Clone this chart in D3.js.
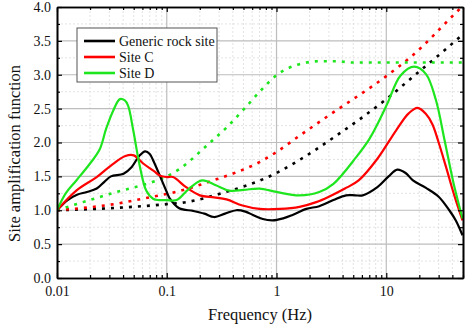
<!DOCTYPE html>
<html>
<head>
<meta charset="utf-8">
<script src="https://cdn.jsdelivr.net/npm/d3@7"></script>
<style>
  body { margin: 0; background: #fff; }
</style>
</head>
<body>
<div id="chart"></div>
<script>
// data
let rockFreq = [0.01, 0.0125, 0.0152, 0.0187, 0.023, 0.027, 0.031, 0.0404, 0.048, 0.056, 0.0636, 0.07, 0.076, 0.087, 0.1, 0.106, 0.13, 0.174, 0.22, 0.27, 0.34, 0.43, 0.52, 0.61, 0.75, 0.92, 1.15, 1.4, 1.87, 2.45, 3.3, 4.3, 5.2, 6.1, 8.3, 10.5, 12.6, 15, 17.5, 23, 30, 37.5, 43, 49.5];
let rockAmp  = [1.0, 1.15, 1.23, 1.27, 1.32, 1.42, 1.50, 1.54, 1.64, 1.80, 1.87, 1.83, 1.72, 1.50, 1.27, 1.18, 1.03, 0.99, 0.95, 0.90, 0.95, 1.00, 0.98, 0.93, 0.87, 0.85, 0.88, 0.93, 1.02, 1.06, 1.15, 1.22, 1.22, 1.22, 1.34, 1.50, 1.60, 1.55, 1.44, 1.33, 1.20, 1.0, 0.85, 0.63];

let siteCFreq = [0.01, 0.015, 0.023, 0.031, 0.042, 0.05, 0.061, 0.076, 0.087, 0.1, 0.114, 0.15, 0.2, 0.27, 0.35, 0.49, 0.7, 1.07, 1.62, 2.3, 3.0, 4.2, 5.6, 8.3, 12.3, 16, 19.3, 23, 26.3, 30, 35, 42, 49.5];
let siteCAmp  = [1.0, 1.29, 1.49, 1.66, 1.80, 1.81, 1.69, 1.58, 1.51, 1.49, 1.49, 1.34, 1.22, 1.19, 1.16, 1.07, 1.02, 1.02, 1.05, 1.12, 1.20, 1.32, 1.44, 1.76, 2.18, 2.43, 2.51, 2.42, 2.27, 2.0, 1.64, 1.2, 0.85];

let siteDFreq = [0.01, 0.012, 0.015, 0.02, 0.0245, 0.028, 0.0325, 0.0374, 0.0415, 0.0445, 0.0495, 0.057, 0.065, 0.075, 0.085, 0.1, 0.123, 0.16, 0.21, 0.28, 0.37, 0.5, 0.7, 1.0, 1.62, 2.45, 3.3, 5.3, 7.0, 8.3, 10.2, 13.5, 18, 23, 28.4, 34, 41, 49.5];
let siteDAmp  = [1.0, 1.25, 1.44, 1.69, 1.9, 2.2, 2.47, 2.64, 2.62, 2.54, 2.18, 1.64, 1.29, 1.17, 1.15, 1.15, 1.15, 1.32, 1.44, 1.37, 1.29, 1.30, 1.32, 1.27, 1.22, 1.27, 1.39, 1.78, 2.05, 2.27, 2.57, 2.99, 3.12, 3.01, 2.62, 2.03, 1.4, 0.88];

// dotted curves
let rockDotFreq = [0.01, 0.03, 0.1, 0.15, 0.3, 1, 1.5, 3.5, 10, 20, 35, 50];
let rockDotAmp  = [1.0, 1.03, 1.09, 1.12, 1.24, 1.55, 1.71, 2.10, 2.64, 3.05, 3.38, 3.6];

let siteCDotFreq = [0.01, 0.03, 0.086, 0.1, 0.3, 0.43, 0.7, 1, 1.62, 3, 10, 17.2, 41.5, 50];
let siteCDotAmp  = [1.0, 1.08, 1.22, 1.24, 1.47, 1.56, 1.71, 1.86, 2.1, 2.40, 2.98, 3.28, 3.89, 4.02];

let siteDDotFreq = [0.01, 0.0172, 0.035, 0.075, 0.1, 0.131, 0.2, 0.237, 0.35, 0.51, 0.75, 1.03, 1.5, 1.87, 2.5, 3.5, 5, 10, 20, 50];
let siteDDotAmp  = [1.0, 1.12, 1.27, 1.42, 1.5, 1.61, 1.86, 1.97, 2.22, 2.5, 2.8, 3.01, 3.14, 3.18, 3.2, 3.2, 3.18, 3.18, 3.18, 3.18];

let xTickValues = [0.01, 0.1, 1, 10];
let xTickLabels = ["0.01", "0.1", "1", "10"];
let yTickValues = [0, 0.5, 1, 1.5, 2, 2.5, 3, 3.5, 4];
let legendNames = ["Generic rock site", "Site C", "Site D"];

// setup
let svgWidth = 474, svgHeight = 328;
let margin = { top: 7, right: 11, bottom: 50, left: 57 };
let bodyWidth = svgWidth - margin.left - margin.right;
let bodyHeight = svgHeight - margin.top - margin.bottom;

let black = "#000000", red = "#ff0000", green = "#1ee61e";
let serif = "Liberation Serif";

let svg = d3.select("#chart").append("svg")
  .attr("width", svgWidth).attr("height", svgHeight);

let chartGroup = svg.append("g")
  .attr("transform", `translate(${margin.left},${margin.top})`);

let xScale = d3.scaleLog().domain([0.01, 50]).range([0, bodyWidth]);
let yScale = d3.scaleLinear().domain([0, 4]).range([bodyHeight, 0]);

// minor grid
let xMinor = [];
[0.01, 0.1, 1, 10].forEach(d => { for (let k = 2; k <= 9; k++) if (d * k <= 50) xMinor.push(d * k); });
let yMinor = d3.range(0.25, 4, 0.5);

chartGroup.append("g").selectAll("line").data(xMinor).enter().append("line")
  .attr("x1", d => xScale(d)).attr("x2", d => xScale(d))
  .attr("y1", 0).attr("y2", bodyHeight)
  .attr("stroke", "#dcdcdc").attr("stroke-width", 0.8).attr("stroke-dasharray", "2,2");
chartGroup.append("g").selectAll("line").data(yMinor).enter().append("line")
  .attr("x1", 0).attr("x2", bodyWidth)
  .attr("y1", d => yScale(d)).attr("y2", d => yScale(d))
  .attr("stroke", "#dcdcdc").attr("stroke-width", 0.8).attr("stroke-dasharray", "2,2");

// major grid
chartGroup.append("g").selectAll("line").data(xTickValues.slice(1)).enter().append("line")
  .attr("x1", d => xScale(d)).attr("x2", d => xScale(d))
  .attr("y1", 0).attr("y2", bodyHeight)
  .attr("stroke", "#bdbdbd").attr("stroke-width", 1.2);
chartGroup.append("g").selectAll("line").data(yTickValues.slice(1, -1)).enter().append("line")
  .attr("x1", 0).attr("x2", bodyWidth)
  .attr("y1", d => yScale(d)).attr("y2", d => yScale(d))
  .attr("stroke", "#bdbdbd").attr("stroke-width", 1.2);

// curves
chartGroup.append("clipPath").attr("id", "plotClip")
  .append("rect").attr("width", bodyWidth).attr("height", bodyHeight);

let plot = chartGroup.append("g").attr("clip-path", "url(#plotClip)");

function pairs(fs, as) { return fs.map((f, i) => ({ f: f, a: as[i] })); }

let smoothLine = d3.line()
  .x(d => xScale(d.f)).y(d => yScale(d.a))
  .curve(d3.curveCatmullRom.alpha(0.5));
let dotLine = d3.line()
  .x(d => xScale(d.f)).y(d => yScale(d.a))
  .curve(d3.curveMonotoneX);

let dotted = [
  { data: pairs(rockDotFreq, rockDotAmp), color: black },
  { data: pairs(siteCDotFreq, siteCDotAmp), color: red },
  { data: pairs(siteDDotFreq, siteDDotAmp), color: green }
];
dotted.forEach(s => {
  plot.append("path").attr("d", dotLine(s.data))
    .attr("fill", "none").attr("stroke", s.color)
    .attr("stroke-width", 2.6).attr("stroke-dasharray", "3,6");
});

let solid = [
  { data: pairs(rockFreq, rockAmp), color: black },
  { data: pairs(siteCFreq, siteCAmp), color: red },
  { data: pairs(siteDFreq, siteDAmp), color: green }
];
solid.forEach(s => {
  plot.append("path").attr("d", smoothLine(s.data))
    .attr("fill", "none").attr("stroke", s.color)
    .attr("stroke-width", 2.2).attr("stroke-linejoin", "round");
});

// axes (ticks pointing inward)
let bottomAxis = d3.axisBottom(xScale).tickValues(xTickValues)
  .tickFormat((d, i) => xTickLabels[i]).tickSizeInner(-5).tickSizeOuter(0).tickPadding(8);
let bottomMinor = d3.axisBottom(xScale).tickValues(xMinor).tickFormat("").tickSizeInner(-3).tickSizeOuter(0);
let topAxis = d3.axisTop(xScale).tickValues(xTickValues).tickFormat("").tickSizeInner(-5).tickSizeOuter(0);
let topMinor = d3.axisTop(xScale).tickValues(xMinor).tickFormat("").tickSizeInner(-3).tickSizeOuter(0);
let leftAxis = d3.axisLeft(yScale).tickValues(yTickValues)
  .tickFormat(d3.format(".1f")).tickSizeInner(-5).tickSizeOuter(0).tickPadding(6);
let leftMinor = d3.axisLeft(yScale).tickValues(yMinor).tickFormat("").tickSizeInner(-3).tickSizeOuter(0);
let rightAxis = d3.axisRight(yScale).tickValues(yTickValues).tickFormat("").tickSizeInner(-5).tickSizeOuter(0);
let rightMinor = d3.axisRight(yScale).tickValues(yMinor).tickFormat("").tickSizeInner(-3).tickSizeOuter(0);

let axes = [
  [bottomAxis, `translate(0,${bodyHeight})`], [bottomMinor, `translate(0,${bodyHeight})`],
  [topAxis, "translate(0,0)"], [topMinor, "translate(0,0)"],
  [leftAxis, "translate(0,0)"], [leftMinor, "translate(0,0)"],
  [rightAxis, `translate(${bodyWidth},0)`], [rightMinor, `translate(${bodyWidth},0)`]
];
axes.forEach(a => {
  let g = chartGroup.append("g").attr("transform", a[1]).call(a[0]);
  g.selectAll(".domain").attr("stroke", "#000").attr("stroke-width", 1.6);
  g.selectAll(".tick line").attr("stroke", "#000").attr("stroke-width", 1.2);
  g.selectAll(".tick text").attr("fill", "#111")
    .style("font-family", serif).style("font-size", "14px");
});

// axis titles
chartGroup.append("text")
  .attr("transform", `translate(${bodyWidth / 2},${bodyHeight + 42})`)
  .attr("text-anchor", "middle").attr("fill", "#111")
  .style("font-family", serif).style("font-size", "16.5px")
  .text("Frequency (Hz)");

chartGroup.append("text")
  .attr("transform", `translate(${-37},${bodyHeight / 2 + 11}) rotate(-90)`)
  .attr("text-anchor", "middle").attr("fill", "#111")
  .style("font-family", serif).style("font-size", "16.5px")
  .text("Site amplification function");

// legend
let legend = chartGroup.append("g").attr("transform", "translate(20,21)");
legend.append("rect").attr("width", 140).attr("height", 54)
  .attr("fill", "#fff").attr("stroke", "#555").attr("stroke-width", 1);
legendNames.forEach((name, i) => {
  let y = 13 + i * 16;
  legend.append("line").attr("x1", 7).attr("x2", 38).attr("y1", y).attr("y2", y)
    .attr("stroke", [black, red, green][i]).attr("stroke-width", 2.6);
  legend.append("text").attr("x", 42).attr("y", y + 5).attr("fill", "#111")
    .style("font-family", serif).style("font-size", "14px").text(name);
});
</script>
</body>
</html>
